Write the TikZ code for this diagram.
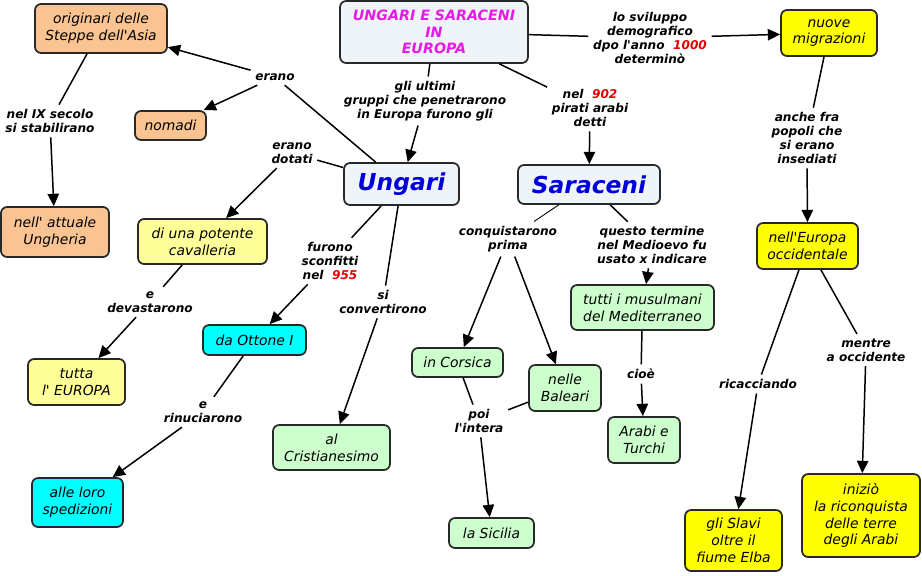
\documentclass[tikz,border=0pt]{standalone}
\usepackage{fontspec}
\setmainfont{DejaVu Sans}[Ligatures=TeXOff]
\usepackage{xcolor}
\usetikzlibrary{arrows.meta}

\definecolor{peach}{RGB}{250,196,146}
\definecolor{paleyellow}{RGB}{255,255,153}
\definecolor{brightyellow}{RGB}{255,255,0}
\definecolor{aqua}{RGB}{0,255,255}
\definecolor{palegreen}{RGB}{204,255,204}
\definecolor{palegray}{RGB}{238,244,247}
\definecolor{titlepink}{RGB}{232,24,232}
\definecolor{mainblue}{RGB}{0,0,220}
\definecolor{numred}{RGB}{230,0,0}
\definecolor{boxline}{RGB}{40,40,40}

\begin{document}
\begin{tikzpicture}[x=0.02cm, y=-0.02cm,
    box/.style={draw=boxline, line width=1pt, rounded corners=3.5pt, align=center, inner sep=1pt,
                font=\fontsize{7.9}{9.6}\selectfont\itshape},
    lab/.style={align=center, inner sep=2.5pt, font=\fontsize{6.9}{7.9}\selectfont\bfseries\itshape},
    link/.style={line width=0.85pt},
    arr/.style={line width=0.85pt, -{Triangle[length=7pt,width=6.5pt]}}]
    \useasboundingbox (0,0) rectangle (922,575);

    % main concepts
    \node[box, fill=palegray, minimum width=3.76cm, minimum height=1.24cm,
          font=\fontsize{8.1}{9.5}\selectfont\bfseries\itshape, text=titlepink] (title) at (434,32) {UNGARI E SARACENI\\IN\\EUROPA};
    \node[box, fill=palegray, minimum width=2.3cm, minimum height=0.84cm,
          font=\fontsize{13.3}{16}\selectfont\bfseries\itshape, text=mainblue] (ungari) at (401.5,184) {Ungari};
    \node[box, fill=palegray, minimum width=2.84cm, minimum height=0.78cm,
          font=\fontsize{13.3}{16}\selectfont\bfseries\itshape, text=mainblue] (saraceni) at (589,184.5) {Saraceni};

    % Ungari branch
    \node[box, fill=peach, minimum width=2.64cm, minimum height=0.98cm] (orig) at (101,28.5) {originari delle\\Steppe dell'Asia};
    \node[box, fill=peach, minimum width=1.42cm, minimum height=0.58cm] (nomadi) at (170.5,125.5) {nomadi};
    \node[box, fill=peach, minimum width=2.16cm, minimum height=1.0cm] (ungheria) at (55,232) {nell' attuale\\Ungheria};
    \node[box, fill=paleyellow, minimum width=2.58cm, minimum height=0.9cm] (cavalleria) at (202.5,241.5) {di una potente\\cavalleria};
    \node[box, fill=paleyellow, minimum width=1.94cm, minimum height=0.92cm] (europa) at (76.5,382) {tutta\\l' EUROPA};
    \node[box, fill=aqua, minimum width=2.06cm, minimum height=0.6cm] (ottone) at (254.5,340) {da Ottone I};
    \node[box, fill=aqua, minimum width=1.82cm, minimum height=0.98cm] (spedizioni) at (77.5,502.5) {alle loro\\spedizioni};
    \node[box, fill=palegreen, minimum width=2.34cm, minimum height=0.9cm] (cristianesimo) at (331.5,447.5) {al\\Cristianesimo};

    % Saraceni branch
    \node[box, fill=palegreen, minimum width=1.82cm, minimum height=0.58cm] (corsica) at (457.5,362.5) {in Corsica};
    \node[box, fill=palegreen, minimum width=1.44cm, minimum height=0.92cm] (baleari) at (565,388) {nelle\\Baleari};
    \node[box, fill=palegreen, minimum width=1.7cm, minimum height=0.6cm] (sicilia) at (491.5,533) {la Sicilia};
    \node[box, fill=palegreen, minimum width=2.86cm, minimum height=0.9cm] (musulmani) at (642.5,307.5) {tutti i musulmani\\del Mediterraneo};
    \node[box, fill=palegreen, minimum width=1.44cm, minimum height=0.92cm] (arabi) at (644,440) {Arabi e\\Turchi};

    % migrations branch
    \node[box, fill=brightyellow, minimum width=1.92cm, minimum height=0.92cm] (nuove) at (829,33) {nuove\\migrazioni};
    \node[box, fill=brightyellow, minimum width=2.02cm, minimum height=0.92cm] (occidentale) at (807.5,246) {nell'Europa\\occidentale};
    \node[box, fill=brightyellow, minimum width=1.94cm, minimum height=1.22cm] (slavi) at (733.5,540.5) {gli Slavi\\oltre il\\fiume Elba};
    \node[box, fill=brightyellow, minimum width=2.36cm, minimum height=1.66cm] (riconquista) at (861,515.5) {iniziò\\la riconquista\\delle terre\\degli Arabi};

    % linking phrases
    \node[lab] (erano) at (275,77) {erano};
    \node[lab] (secolo) at (50,121) {nel IX secolo\\si stabilirano};
    \node[lab] (dotati) at (292,153) {erano\\dotati};
    \node[lab] (ultimi) at (425,101) {gli ultimi\\gruppi che penetrarono\\in Europa furono gli};
    \node[lab] (pirati) at (590,108) {nel~ \textcolor{numred}{902}\\pirati arabi\\detti};
    \node[lab] (sviluppo) at (650,38) {lo sviluppo\\demografico\\dpo l'anno~ \textcolor{numred}{1000}\\determinò};
    \node[lab] (insediati) at (807,138) {anche fra\\popoli che\\si erano\\insediati};
    \node[lab] (sconfitti) at (330,261) {furono\\sconfitti\\nel~ \textcolor{numred}{955}};
    \node[lab] (convertirono) at (383,302) {si\\convertirono};
    \node[lab] (devastarono) at (150,302) {e\\devastarono};
    \node[lab] (rinunciarono) at (203,412) {e\\rinuciarono};
    \node[lab] (conquistarono) at (508,239) {conquistarono\\prima};
    \node[lab] (termine) at (652,245) {questo termine\\nel Medioevo fu\\usato x indicare};
    \node[lab] (cioe) at (641,374) {cioè};
    \node[lab] (intera) at (479,421) {poi\\l'intera};
    \node[lab] (ricacciando) at (758,384) {ricacciando};
    \node[lab] (mentre) at (866,350) {mentre\\a occidente};

    % connectors
    \draw[link] (title) -- (ultimi);
    \draw[arr] (ultimi) -- (ungari);
    \draw[link] (title) -- (pirati);
    \draw[arr] (pirati) -- (saraceni);
    \draw[link] (title) -- (sviluppo);
    \draw[arr] (sviluppo) -- (nuove);

    \draw[link] (ungari) -- (erano);
    \draw[arr] (erano) -- (orig);
    \draw[arr] (erano) -- (nomadi);
    \draw[link] (orig) -- (secolo);
    \draw[arr] (secolo) -- (ungheria);
    \draw[link] (ungari) -- (dotati);
    \draw[arr] (dotati) -- (cavalleria);
    \draw[link] (cavalleria) -- (devastarono);
    \draw[arr] (devastarono) -- (europa);
    \draw[link] (ungari) -- (sconfitti);
    \draw[arr] (sconfitti) -- (ottone);
    \draw[link] (ottone) -- (rinunciarono);
    \draw[arr] (rinunciarono) -- (spedizioni);
    \draw[link] (ungari) -- (convertirono);
    \draw[arr] (convertirono) -- (cristianesimo);

    \draw[line width=0.5pt] (saraceni) -- (conquistarono);
    \draw[arr] (conquistarono) -- (corsica);
    \draw[arr] (conquistarono) -- (baleari);
    \draw[link] (corsica) -- (intera);
    \draw[link] (baleari) -- (intera);
    \draw[arr] (intera) -- (sicilia);
    \draw[link] (saraceni) -- (termine);
    \draw[arr] (termine) -- (musulmani);
    \draw[link] (musulmani) -- (cioe);
    \draw[arr] (cioe) -- (arabi);

    \draw[link] (nuove) -- (insediati);
    \draw[arr] (insediati) -- (occidentale);
    \draw[link] (occidentale) -- (ricacciando);
    \draw[arr] (ricacciando) -- (slavi);
    \draw[link] (occidentale) -- (mentre);
    \draw[arr] (mentre) -- (riconquista);
\end{tikzpicture}
\end{document}
